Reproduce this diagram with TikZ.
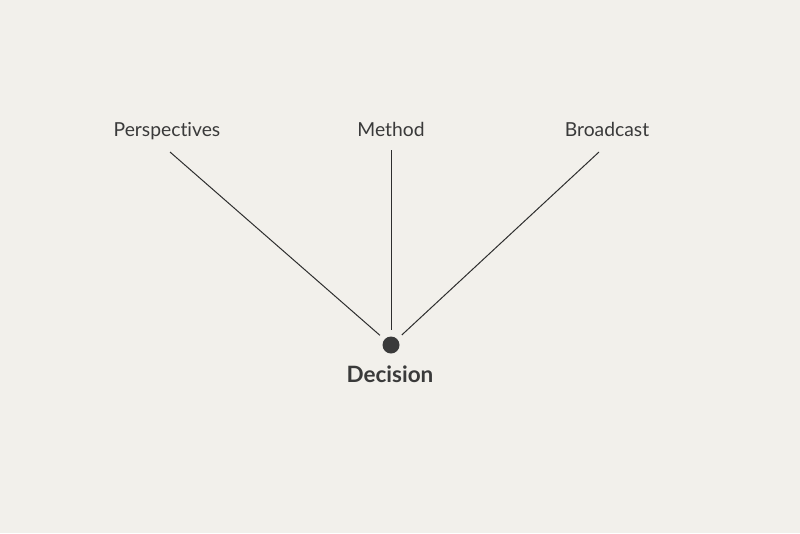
\documentclass[tikz,border=0pt]{standalone}
\usepackage{fontspec}
\setmainfont[Ligatures={NoCommon,NoRare}]{Lato}
\definecolor{paper}{HTML}{F2F0EB}
\definecolor{ink}{HTML}{3A3A3A}
\definecolor{linec}{HTML}{2E2E2E}
\begin{document}
\begin{tikzpicture}[x=1pt,y=-1pt,
  lbl/.style={text=ink,font=\fontsize{19.3}{21}\selectfont,inner sep=0pt,anchor=base},
  hub/.style={circle,fill=ink,minimum size=17pt,inner sep=0pt},
  spoke/.style={draw=linec,line width=1pt,shorten >=6pt}]
\fill[paper] (0,0) rectangle (800,533);
\useasboundingbox (0,0) rectangle (800,533);
\node[lbl] (per) at (167,136) {Perspectives};
\node[lbl] (met) at (391,136) {Method};
\node[lbl] (bro) at (607,136) {Broadcast};
\node[hub] (dot) at (391,345) {};
\node[lbl,font=\fontsize{22.5}{24}\selectfont\bfseries] (dec) at (390,382) {Decision};
\coordinate (perS) at (170,152);
\coordinate (metS) at (391,150);
\coordinate (broS) at (599,152);
\draw[spoke] (perS) -- (dot);
\draw[spoke] (metS) -- (dot);
\draw[spoke] (broS) -- (dot);
\end{tikzpicture}
\end{document}
